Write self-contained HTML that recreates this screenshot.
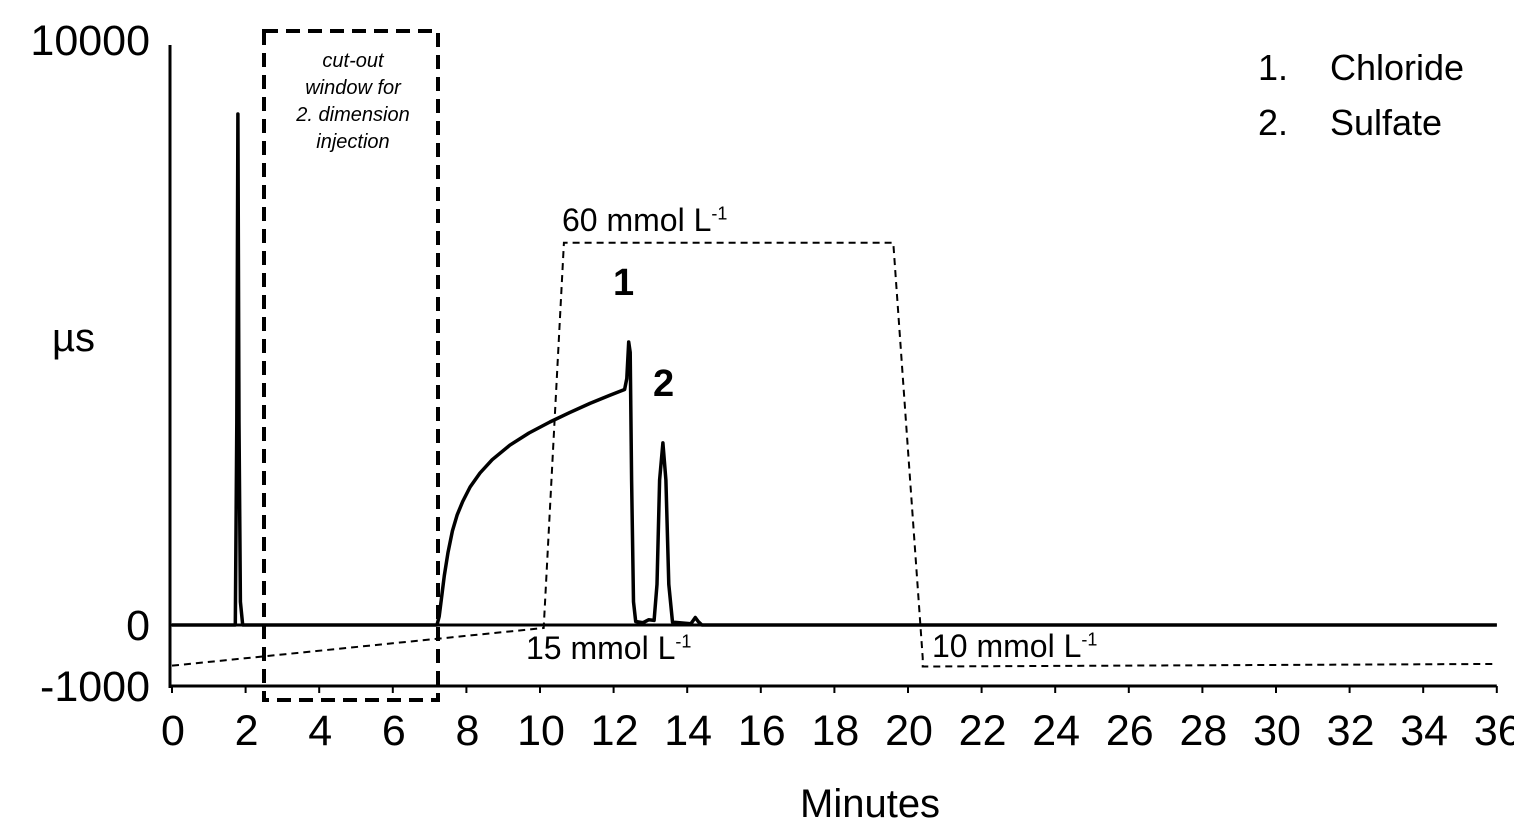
<!DOCTYPE html>
<html><head><meta charset="utf-8"><style>
body{margin:0;background:#fff;}
svg{display:block;}
.tk{font-family:"Liberation Sans",sans-serif;font-size:43px;fill:#000;}
</style></head><body>
<svg id="chart" width="1514" height="829" viewBox="0 0 1514 829">
<g id="g"></g>
</svg>
<script>
const xTicks=[0,2,4,6,8,10,12,14,16,18,20,22,24,26,28,30,32,34,36];
const yTicks=[10000,0,-1000];
const sigT=[0,1.72,1.76,1.79,1.82,1.86,1.92,7.2,7.26,7.32,7.4,7.5,7.62,7.75,7.9,8.1,8.37,8.7,9.18,9.7,10.27,10.8,11.36,11.9,12.3,12.36,12.41,12.45,12.49,12.54,12.6,12.8,12.95,13.1,13.18,13.25,13.34,13.42,13.5,13.6,14.1,14.22,14.3,14.4,36];
const sigV=[0,0,3500,8810,3500,400,0,0,150,450,850,1250,1620,1900,2130,2380,2620,2850,3100,3310,3500,3660,3820,3960,4060,4250,4880,4700,2500,400,60,40,90,80,700,2500,3140,2500,700,50,20,130,60,0,0];
const gT=[0,10.1,10.65,19.6,20.4,20.4,36];
const gC=[10.6,15,60,60,11.5,10.5,10.8];
const NS='http://www.w3.org/2000/svg';
const g=document.getElementById('g');
function X(t){return 172+36.8*t;}
function Y(v){return v>=0?625-v*0.058:625+v*-0.061;}
function C(c){return 628-(c-15)*8.56;}
function mk(tag,attrs){const e=document.createElementNS(NS,tag);for(const k in attrs)e.setAttribute(k,attrs[k]);g.appendChild(e);return e;}
let e=mk('line',{x1:170,y1:45,x2:170,y2:688,stroke:'#000','stroke-width':3});


e=mk('line',{x1:170,y1:686,x2:X(36),y2:686,stroke:'#000','stroke-width':3});


xTicks.forEach(t=>{
 let l=mk('line',{x1:X(t),y1:686,x2:X(t),y2:693,stroke:'#000','stroke-width':2});
 
 
 let tx=mk('text',{x:X(t)+1,y:745,'text-anchor':'middle',class:'tk'});tx.textContent=t;
 
 
});
yTicks.forEach(v=>{
 let tx=mk('text',{x:150,y:(v==10000?40:Y(v))+15,'text-anchor':'end',class:'tk'});tx.textContent=v;
 
 
});
let d=gT.map((t,i)=>(i?'L':'M')+X(t)+' '+C(gC[i])).join(' ');
e=mk('path',{d:d,fill:'none',stroke:'#000','stroke-width':2,'stroke-dasharray':'7 5'});


e=mk('line',{x1:170,y1:Y(0),x2:X(36),y2:Y(0),stroke:'#000','stroke-width':3});


d=sigT.map((t,i)=>(i?'L':'M')+X(t).toFixed(1)+' '+Y(sigV[i]).toFixed(1)).join(' ');
e=mk('path',{d:d,fill:'none',stroke:'#000','stroke-width':3.5,'stroke-linejoin':'round'});


e=mk('rect',{x:264,y:31,width:174,height:669,fill:'none',stroke:'#000','stroke-width':4,'stroke-dasharray':'14 8'});


</script>
<div style="position:absolute;left:0;top:0;width:1514px;height:829px;pointer-events:none;font-family:'Liberation Sans',sans-serif;">
<div style="position:absolute;left:268px;top:48px;width:170px;text-align:center;font-style:italic;font-size:20px;line-height:27px;">cut-out<br>window for<br>2. dimension<br>injection</div>
<div style="position:absolute;left:52px;top:316px;font-size:40px;">µs</div>
<div style="position:absolute;left:800px;top:782px;font-size:40px;">Minutes</div>
<div style="position:absolute;left:1258px;top:47px;font-size:36px;">1.<span style="position:absolute;left:72px;">Chloride</span></div>
<div style="position:absolute;left:1258px;top:102px;font-size:36px;">2.<span style="position:absolute;left:72px;">Sulfate</span></div>
<div style="position:absolute;left:613px;top:262px;font-size:38px;font-weight:bold;">1</div>
<div style="position:absolute;left:653px;top:363px;font-size:38px;font-weight:bold;">2</div>
<div style="position:absolute;left:562px;top:202px;font-size:32px;">60 mmol L<sup style="font-size:18px;">-1</sup></div>
<div style="position:absolute;left:526px;top:630px;font-size:32px;">15 mmol L<sup style="font-size:18px;">-1</sup></div>
<div style="position:absolute;left:932px;top:628px;font-size:32px;">10 mmol L<sup style="font-size:18px;">-1</sup></div>
</div>
</body></html>
